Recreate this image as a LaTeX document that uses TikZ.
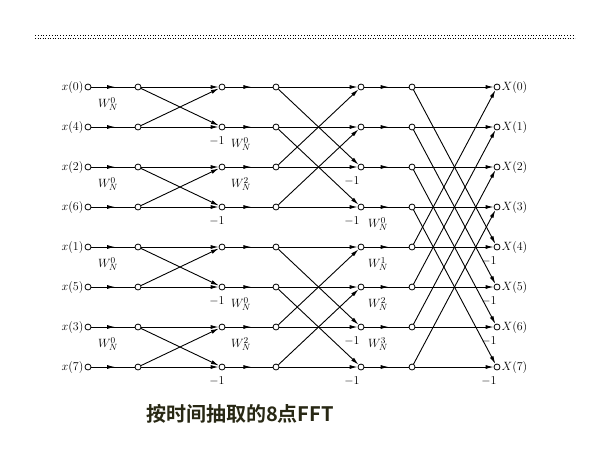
\documentclass[tikz,border=0pt]{standalone}
\usepackage{fontspec}
\newfontfamily\cjk{Noto Sans CJK SC}[BoldFont={Noto Sans CJK SC Bold}]
\usetikzlibrary{arrows.meta,decorations.markings}

\begin{document}
\begin{tikzpicture}[x=1pt, y=-1pt, >={Latex[length=8pt,width=4pt]},
    pt/.style={draw, circle, fill=white, inner sep=0pt, minimum size=6pt, line width=0.8pt},
    wire/.style={line width=0.9pt},
    midarrow/.style={wire, decoration={markings, mark=at position 0.55 with {\arrow{>}}}, postaction={decorate}},
    txt/.style={font=\fontsize{13}{15}\selectfont, inner sep=1pt},
    lab/.style={font=\fontsize{13}{15}\selectfont, inner sep=1pt}]
  \useasboundingbox (0,0) rectangle (609,453);
  \draw[dotted, line width=0.8pt] (35,35) -- (575,35);
  \draw[dotted, line width=0.5pt] (35,38) -- (575,38);

  % columns of nodes
  \foreach \c/\xx in {0/88, 1/138, 2/222, 3/276, 4/361, 5/412, 6/497}
    \foreach \r in {0,...,7}
      \node[pt] (n\c\r) at (\xx, 87+40*\r) {};

  % inputs and outputs
  \foreach \r/\k in {0/0, 1/4, 2/2, 3/6, 4/1, 5/5, 6/3, 7/7} {
    \node[txt, anchor=east] at (n0\r.west) {$x(\k)$};
    \node[txt, anchor=west] at (n6\r.east) {$X(\r)$};
  }

  % straight links with arrow in the middle
  \foreach \a/\b in {0/1, 2/3, 4/5}
    \foreach \r in {0,...,7}
      \draw[midarrow] (n\a\r) -- (n\b\r);

  % butterflies
  \foreach \a/\b/\d/\list in {1/2/1/{0,2,4,6}, 3/4/2/{0,1,4,5}, 5/6/4/{0,1,2,3}}
    \foreach \i in \list {
      \pgfmathtruncatemacro\j{\i+\d}
      \draw[wire, ->] (n\a\i) -- (n\b\i);
      \draw[wire, ->] (n\a\i) -- (n\b\j);
      \draw[wire, ->] (n\a\j) -- (n\b\i);
      \draw[wire, ->] (n\a\j) -- (n\b\j);
    }

  % twiddle factors
  \foreach \r in {1,3,5,7}
    \node[lab] at (108,\r*40+64) {$W_N^0$};
  \foreach \r/\k in {2/0, 3/2, 6/0, 7/2}
    \node[lab] at (241,\r*40+64) {$W_N^\k$};
  \foreach \r/\k in {4/0, 5/1, 6/2, 7/3}
    \node[lab] at (378,\r*40+64) {$W_N^\k$};

  % -1 factors
  \foreach \r in {1,3,5,7}
    \node[lab] at (217,\r*40+101) {$-1$};
  \foreach \r in {2,3,6,7}
    \node[lab] at (352,\r*40+101) {$-1$};
  \foreach \r in {4,5,6,7}
    \node[lab] at (489,\r*40+101) {$-1$};

  \node[font=\cjk\bfseries\fontsize{20}{24}\selectfont, text={rgb,255:red,40;green,40;blue,20}] (title) at (240,414) {按时间抽取的8点FFT};
\end{tikzpicture}
\end{document}
